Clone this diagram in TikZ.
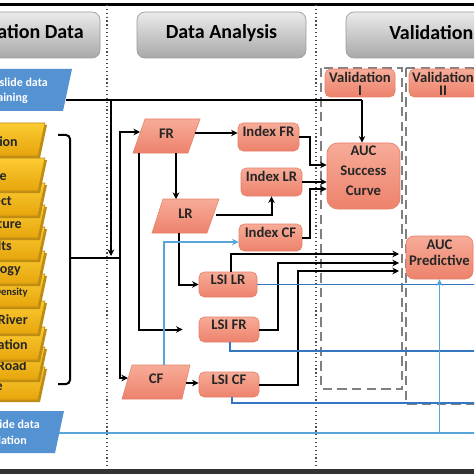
\documentclass[tikz,border=0pt]{standalone}
\usepackage{fontspec}
\setmainfont{Carlito}
\usetikzlibrary{arrows.meta,fit,calc}
\definecolor{salL}{RGB}{247,172,152}
\definecolor{salD}{RGB}{237,130,108}
\definecolor{salB}{RGB}{228,128,106}
\definecolor{blueP}{RGB}{84,146,210}
\definecolor{blueD}{RGB}{52,118,192}
\definecolor{blueL}{RGB}{86,166,220}
\definecolor{goldL}{RGB}{252,204,50}
\definecolor{goldD}{RGB}{230,164,12}
\definecolor{goldS}{RGB}{190,140,20}
\begin{document}
\begin{tikzpicture}[x=0.75pt,y=-0.75pt,font=\bfseries,
  every node/.style={inner sep=0pt},
  hdr/.style={rounded corners=6pt,top color=black!8,bottom color=black!34,draw=black!40,line width=0.5pt,inner sep=0pt},
  sbox/.style={rounded corners=4pt,top color=salL,bottom color=salD,draw=salB,line width=0.5pt,inner sep=0pt,align=center,font=\bfseries\fontsize{11}{12}\selectfont,text=black!85},
  para/.style={top color=salL,bottom color=salD,draw=salB,line width=0.4pt},
  yb/.style={top color=goldL,bottom color=goldD,draw=goldS,line width=0.5pt},
  ln/.style={line width=1.5pt,black},
  arr/.style={line width=1.5pt,black,-{Stealth[length=5pt,width=5pt]}},
  bl/.style={line width=1.4pt,blueD},
  lb/.style={line width=1.4pt,blueL},
  lbarr/.style={line width=1.4pt,blueL,-{Stealth[length=5pt,width=5pt]}},
  vdash/.style={draw=black!50,line width=1.6pt,dash pattern=on 7pt off 4pt},
  wtxt/.style={text=white,font=\bfseries\fontsize{9}{10}\selectfont,anchor=east},
  vtxt/.style={font=\bfseries\fontsize{11}{12}\selectfont,text=black!85}
]
\useasboundingbox (0,0) rectangle (474,474);
\clip (0,0) rectangle (474,474);
\fill[white] (0,0) rectangle (474,474);

% frame lines
\draw[line width=2pt] (0,4.5) -- (474,4.5);
\fill[black!80] (0,469) rectangle (474,474);
\draw[dotted,line width=0.9pt,black!70] (107,5) -- (107,469);
\draw[dotted,line width=0.9pt,black!70] (316,5) -- (316,469);

% headers
\node[hdr,fit={(-60,12)(100,58)}] (h1) {};
\node[anchor=east,font=\bfseries\fontsize{15}{18}\selectfont] (h1t) at (84,33) {Preparation Data};
\node[hdr,fit={(137,12)(306,58)}] (h2) {};
\node[font=\bfseries\fontsize{15}{18}\selectfont] (h2t) at (221.5,33) {Data Analysis};
\node[hdr,fit={(346,12)(560,58)}] (h3) {};
\node[anchor=west,font=\bfseries\fontsize{15}{18}\selectfont] (h3t) at (389,33) {Validation};

% validation regions
\draw[vdash] (321,68) rectangle (402,389);
\draw[vdash] (406,68) -- (406,404) -- (480,404);
\draw[vdash] (406,68) -- (480,68);

% blue data boxes
\fill[blueP] (-20,69) -- (72,69) -- (63,111) -- (-20,111) -- cycle;
\node[wtxt] (trA) at (48,82) {Landslide data};
\node[wtxt] (trB) at (28,98) {for training};
\coordinate (trainR) at (66,100);
\fill[blueP] (-20,411) -- (64,411) -- (55,453) -- (-20,453) -- cycle;
\node[wtxt] (vaA) at (40,424) {Landslide data};
\node[wtxt] (vaB) at (27,440) {for validation};
\coordinate (valR) at (59,433);

% factor stack
\foreach \yy/\lab/\xe/\fs in {386/Land Use/3/10.5, 366/Distance to Road/27/10.5, 346/Vegetation/28/10.5, 320/Distance to River/28/10.5, 293/Drainage Density/28/8, 270/Lithology/21/10.5, 246/Faults/12/10.5, 224/Curvature/22/10.5, 202/Aspect/12/10.5, 177/Slope/7/10.5, 142/Elevation/18/10.5}{
  \fill[goldS] (-20,\yy-17) -- (47,\yy-17) -- (40,\yy+16) -- (-20,\yy+16) -- cycle;
  \path[yb] (-20,\yy-19) -- (45,\yy-19) -- (38,\yy+14) -- (-20,\yy+14) -- cycle;
  \node[anchor=east,font=\bfseries\fontsize{\fs}{\fs}\selectfont,text=black!85] (fac\yy) at (\xe,\yy) {\lab};
}

% bracket
\coordinate (brT) at (58,135);
\coordinate (brB) at (58,384);
\coordinate (brM) at (70,258);
\draw[ln,rounded corners=3pt] (brT) -- (70,135) -- (70,384) -- (brB);
\coordinate (jn) at (120,258);
\draw[ln] (brM) -- (jn);

% parallelograms
\path[para] (145,119) -- (200,119) -- (188,153) -- (133,153) -- cycle;
\node[font=\bfseries\fontsize{11}{12}\selectfont,text=black!85] (FR) at (166.5,134) {FR};
\path[para] (163,199) -- (219,199) -- (207,233) -- (152,233) -- cycle;
\node[font=\bfseries\fontsize{11}{12}\selectfont,text=black!85] (LR) at (185.5,214) {LR};
\path[para] (132,365) -- (190,365) -- (182,399) -- (122,399) -- cycle;
\node[font=\bfseries\fontsize{11}{12}\selectfont,text=black!85] (CF) at (156,379) {CF};
\coordinate (FRl) at (140,132);
\coordinate (FRr) at (195,133);
\coordinate (FRb) at (176,153);
\coordinate (FRbl) at (139,153);
\coordinate (LRt) at (176,199);
\coordinate (LRr) at (216,215);
\coordinate (LRb) at (179,233);
\coordinate (CFl) at (128,378);
\coordinate (CFt) at (164,365);
\coordinate (CFr) at (186,383);

% boxes
\node[sbox,fit={(238,123)(299,151)}] (ifr) {Index FR};
\node[sbox,fit={(241,168)(302,196)}] (ilr) {Index LR};
\node[sbox,fit={(239,224)(302,251)}] (icf) {Index CF};
\node[sbox,rounded corners=8pt,font=\bfseries\fontsize{11}{15}\selectfont,fit={(327,143)(400,209)}] (auc1) {AUC\\Success\\Curve};
\node[sbox,fit={(199,272)(257,297)}] (llr) {LSI LR};
\node[sbox,fit={(199,317)(259,342)}] (lfr) {LSI FR};
\node[sbox,fit={(199,372)(259,397)}] (lcf) {LSI CF};
\node[sbox,rounded corners=6pt,font=\bfseries\fontsize{11}{11.5}\selectfont,fit={(406,236)(473,279)}] (aucp) {AUC\\Predictive};
\node[sbox,fit={(325,69)(395,97)}] (v1) {};
\node[vtxt] (v1a) at (360,77) {Validation};
\node[vtxt] (v1b) at (360,90.5) {I};
\node[sbox,fit={(409,69)(478,97)}] (v2) {};
\node[vtxt] (v2a) at (443,77) {Validation};
\node[vtxt] (v2b) at (443,90.5) {II};

% training line
\coordinate (tr1) at (111,100);
\coordinate (tr2) at (362,100);
\coordinate (tr3) at (111,256);
\draw[ln] (trainR) -- (tr2);
\draw[arr] (tr2) -- (tr2 |- auc1.north);
\draw[arr] (tr1) -- (tr3);

% bus
\draw[arr] (jn) |- (FRl);
\draw[arr] (jn) |- (CFl);

% analysis connectors
\draw[arr] (FRr) -- (ifr.west |- FRr);
\draw[arr] (FRb) -- (LRt);
\draw[arr,shorten >=12pt] (FRbl) |- (lfr.west);
\draw[arr] (LRr) -| (ilr.south);
\draw[arr] (LRb) |- (llr.west);
\coordinate (CFbend) at (164,242);
\draw[lbarr] (CFt) -- (CFbend) -- (icf.west |- CFbend);
\draw[arr] (CFr) -- (lcf.west |- CFr);

% to AUC success
\coordinate (k1) at (310,165);
\coordinate (k3) at (310,189);
\draw[arr] (ifr.east) -| (k1) -- (auc1.west |- k1);
\draw[arr] (ilr.east) -- (auc1.west |- ilr.east);
\draw[arr] (icf.east) -| (k3) -- (auc1.west |- k3);

% to AUC predictive
\coordinate (p1) at (231,254);
\coordinate (p2) at (278,263);
\coordinate (p3) at (298,271);
\draw[arr,shorten >=5pt] (llr.north -| p1) -- (p1) -- (aucp.west |- p1);
\draw[arr,shorten >=5pt] (lfr.east) -| (p2) -- (aucp.west |- p2);
\draw[arr,shorten >=5pt] (lcf.east) -| (p3) -- (aucp.west |- p3);

% blue output lines
\coordinate (R) at (480,0);
\draw[bl] (llr.east) -- (llr.east -| R);
\coordinate (q2) at (230,351);
\coordinate (q3) at (232,403);
\draw[bl] (lfr.south -| q2) -- (q2) -- (q2 -| R);
\draw[bl] (lcf.south -| q3) -- (q3) -- (q3 -| R);

% validation data line
\draw[lb] (valR) -- (valR -| R);
\draw[lbarr] (aucp.south |- valR) -- (aucp.south);
\end{tikzpicture}
\end{document}
